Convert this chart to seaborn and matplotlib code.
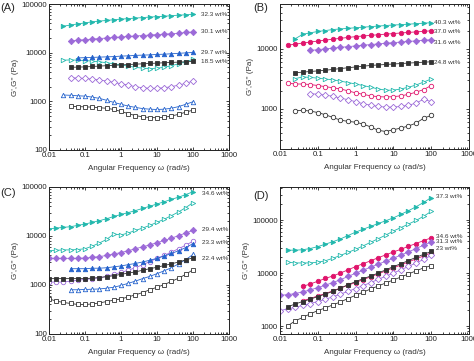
import matplotlib
matplotlib.use("Agg")
import matplotlib.pyplot as plt
import matplotlib.ticker as mticker
import seaborn as sns
import pandas as pd

sns.set_style("ticks")
plt.rcParams['font.family'] = ['Liberation Sans', 'DejaVu Sans']

# angular frequency grid (rad/s)
freq = [0.01, 0.0158, 0.0251, 0.0398, 0.0631, 0.1, 0.158, 0.251, 0.398, 0.631,
        1.0, 1.58, 2.51, 3.98, 6.31, 10.0, 15.8, 25.1, 39.8, 63.1, 100.0]

# ---------------- Panel A ----------------
A_323_Gp = [35000, 37000, 39000, 41000, 43000, 44500, 46000, 47500, 49000, 50000,
            51500, 52500, 54000, 55000, 56000, 57500, 59000, 60000, 61500]
A_323_Gpp = [7000, 7100, 7000, 6900, 6700, 6500, 6200, 5900, 5600, 5300,
             5000, 4800, 4700, 4800, 5000, 5400, 5900, 6500, 7300]
A_301_Gp = [17500, 18000, 18500, 19000, 19500, 20000, 20500, 21000, 21500, 22000,
            22500, 23000, 23500, 24000, 24500, 25000, 26000, 26500]
A_301_Gpp = [3050, 3000, 2950, 2850, 2750, 2600, 2450, 2300, 2150, 2000,
             1900, 1850, 1850, 1900, 2000, 2150, 2350, 2600]
A_297_Gp = [7800, 7900, 8000, 8100, 8200, 8300, 8500, 8600, 8800, 8900,
            9000, 9200, 9300, 9500, 9700, 9900, 10100]
A_297_Gpp = [1350, 1330, 1300, 1280, 1220, 1150, 1050, 950, 870, 800,
             750, 710, 690, 680, 690, 720, 780, 870, 980]
A_185_Gp = [5000, 5050, 5100, 5200, 5300, 5400, 5500, 5600, 5700, 5800,
            5900, 6000, 6100, 6200, 6300, 6400, 6500, 6600]
A_185_Gpp = [790, 780, 770, 760, 740, 720, 680, 620, 560, 510,
             480, 465, 460, 470, 500, 540, 600, 660]

# ---------------- Panel B ----------------
B_403_Gp = [14700, 17500, 18500, 19500, 20200, 21000, 21500, 22000, 22500, 23000,
            23500, 24000, 24500, 25000, 25300, 25800, 26300, 26800, 27300]
B_403_Gpp = [3200, 3400, 3350, 3250, 3150, 3050, 2900, 2750, 2600, 2450,
             2300, 2150, 2050, 2050, 2150, 2300, 2500, 2800, 3150]
B_370_Gp = [11500, 12000, 12500, 13000, 13500, 14000, 14500, 15000, 15500, 16000,
            16400, 16800, 17200, 17600, 18000, 18400, 18800, 19200, 19600, 20000]
B_370_Gpp = [2700, 2600, 2600, 2550, 2450, 2350, 2250, 2150, 2000, 1850,
             1750, 1650, 1600, 1580, 1600, 1650, 1750, 1900, 2100, 2450]
B_316_Gp = [9400, 9700, 10000, 10300, 10600, 10900, 11200, 11500, 11800, 12100,
            12400, 12700, 13000, 13300, 13600, 13900, 14200]
B_316_Gpp = [1800, 1750, 1700, 1620, 1520, 1420, 1320, 1220, 1150, 1100,
             1070, 1070, 1100, 1150, 1250, 1450, 1320]
B_248_Gp = [4000, 4100, 4200, 4300, 4400, 4550, 4700, 4850, 5000, 5150,
            5300, 5400, 5500, 5600, 5700, 5800, 5900, 6000, 6100]
B_248_Gpp = [930, 950, 920, 870, 800, 720, 650, 620, 600, 560,
             500, 440, 420, 450, 480, 520, 580, 700, 780]

# ---------------- Panel C ----------------
C_346_Gp = [14000, 14500, 15000, 15500, 16500, 17500, 19000, 20500, 22500, 25000, 27500,
            30000, 33000, 36500, 40500, 45000, 50000, 56000, 62000, 70000, 80000]
C_346_Gpp = [5000, 5100, 5200, 5200, 5300, 5500, 6200, 7200, 8500, 11000, 10500,
             11500, 13000, 14500, 16500, 19000, 22000, 26000, 31000, 38000, 48000]
C_294_Gp = [3500, 3500, 3500, 3500, 3500, 3550, 3650, 3800, 4000, 4300, 4600,
            5000, 5500, 6000, 6600, 7300, 8100, 9000, 10200, 11500, 13000]
C_294_Gpp = [1150, 1150, 1150, 1200, 1250, 1300, 1350, 1400, 1500, 1650, 1800,
             2000, 2250, 2600, 3000, 3500, 4000, 4700, 5500, 6500, 7800]
C_233_Gp = [2150, 2150, 2150, 2200, 2200, 2250, 2350, 2450, 2600, 2750,
            2950, 3200, 3500, 3900, 4400, 5000, 5800, 7000]
C_233_Gpp = [800, 800, 810, 820, 830, 860, 900, 980, 1080, 1200,
             1350, 1500, 1700, 1950, 2250, 2700, 3300, 4200]
C_224_Gp = [1350, 1350, 1350, 1350, 1350, 1350, 1380, 1420, 1480, 1550, 1650,
            1750, 1850, 2000, 2150, 2300, 2500, 2700, 2950, 3250, 3600]
C_224_Gpp = [520, 470, 440, 420, 400, 400, 410, 430, 460, 490, 520,
             570, 630, 700, 800, 900, 1020, 1180, 1380, 1650, 2050]

# ---------------- Panel D ----------------
D_373_Gp = [27000, 27000, 27500, 29000, 31500, 35000, 39000, 44000, 51000, 59000,
            67000, 76000, 86000, 97000, 110000, 128000, 150000, 178000, 215000, 265000]
D_373_Gpp = [16000, 15500, 15500, 15500, 16000, 17000, 19000, 21500, 24500, 28000,
             32500, 38000, 44500, 52000, 62000, 72000, 84000, 98000, 118000, 145000]
D_346_Gp = [5600, 6200, 7000, 7900, 8800, 10000, 11500, 13200, 15000, 17000,
            19500, 22000, 25000, 28000, 32000, 36000, 41000, 46000]
D_346_Gpp = [3000, 3300, 3700, 4100, 4600, 5200, 5900, 6600, 7500, 8500,
             9600, 11000, 12500, 14200, 16200, 18500, 21000, 24000]
D_313_Gp = [3800, 3900, 4100, 4400, 4800, 5300, 5900, 6600, 7500, 8600, 9900,
            11300, 12900, 14700, 16700, 19000, 21800, 25000, 29000, 33500, 38500]
D_313_Gpp = [1950, 2100, 2250, 2450, 2650, 2900, 3200, 3550, 4000, 4500, 5100,
             5800, 6600, 7600, 8700, 10000, 11500, 13300, 15500, 18000, 21500]
D_23_Gp = [2300, 2600, 2900, 3200, 3600, 4000, 4500, 5200, 6000, 6900,
           7800, 8800, 10000, 11500, 13200, 15000, 17200, 19800, 22500, 25500]
D_23_Gpp = [1000, 1250, 1450, 1700, 1950, 2200, 2500, 2850, 3300, 3800,
            4350, 5000, 5700, 6500, 7400, 8400, 9600, 11000, 12500, 13800]

panel_letters = ["(A)", "(B)", "(C)", "(D)"]
labels_A = ["32.3 wt%", "30.1 wt%", "29.7 wt%", "18.5 wt%"]
labels_B = ["40.3 wt%", "37.0 wt%", "31.6 wt%", "24.8 wt%"]
labels_C = ["34.6 wt%", "29.4 wt%", "23.3 wt%", "22.4 wt%"]
labels_D = ["37.3 wt%", "34.6 wt%", "31.3 wt%", "23 wt%"]
label_y_A = [62000, 26600, 10300, 6500]
label_y_B = [27100, 19200, 12600, 5840]
label_y_C = [74500, 13800, 7500, 3550]
label_y_D = [272000, 49900, 38500, 28400]

CYAN = "#22b8ad"
PURPLE = "#9c6ad8"
BLUE = "#2462cc"
BLACK = "#333333"
MAG = "#e0146c"

fig = plt.figure(figsize=(4.74, 3.61), dpi=100)

axA = fig.add_axes([0.1034, 0.5845, 0.3797, 0.4044])
axB = fig.add_axes([0.5907, 0.5873, 0.3987, 0.4017])
axC = fig.add_axes([0.1034, 0.0748, 0.3797, 0.4072])
axD = fig.add_axes([0.5907, 0.0748, 0.3987, 0.4072])


def series(ax, vals, color, marker, filled):
    x = freq[len(freq) - len(vals):]
    df = pd.DataFrame({"w": x, "G": vals})
    sns.lineplot(data=df, x="w", y="G", ax=ax, color=color, marker=marker,
                 markersize=3.2, markeredgewidth=0.6, markeredgecolor=color,
                 markerfacecolor=color if filled else "white",
                 linewidth=0.6, sort=False, estimator=None)


# Panel A
series(axA, A_323_Gp, CYAN, ">", True)
series(axA, A_323_Gpp, CYAN, ">", False)
series(axA, A_301_Gp, PURPLE, "D", True)
series(axA, A_301_Gpp, PURPLE, "D", False)
series(axA, A_297_Gp, BLUE, "^", True)
series(axA, A_297_Gpp, BLUE, "^", False)
series(axA, A_185_Gp, BLACK, "s", True)
series(axA, A_185_Gpp, BLACK, "s", False)

# Panel B
series(axB, B_403_Gp, CYAN, ">", True)
series(axB, B_403_Gpp, CYAN, ">", False)
series(axB, B_370_Gp, MAG, "o", True)
series(axB, B_370_Gpp, MAG, "o", False)
series(axB, B_316_Gp, PURPLE, "D", True)
series(axB, B_316_Gpp, PURPLE, "D", False)
series(axB, B_248_Gp, BLACK, "s", True)
series(axB, B_248_Gpp, BLACK, "o", False)

# Panel C
series(axC, C_346_Gp, CYAN, ">", True)
series(axC, C_346_Gpp, CYAN, ">", False)
series(axC, C_294_Gp, PURPLE, "D", True)
series(axC, C_294_Gpp, PURPLE, "o", False)
series(axC, C_233_Gp, BLUE, "^", True)
series(axC, C_233_Gpp, BLUE, "^", False)
series(axC, C_224_Gp, BLACK, "s", True)
series(axC, C_224_Gpp, BLACK, "s", False)

# Panel D
series(axD, D_373_Gp, CYAN, ">", True)
series(axD, D_373_Gpp, CYAN, ">", False)
series(axD, D_346_Gp, MAG, "o", True)
series(axD, D_346_Gpp, MAG, "o", False)
series(axD, D_313_Gp, PURPLE, "D", True)
series(axD, D_313_Gpp, PURPLE, "D", False)
series(axD, D_23_Gp, BLACK, "s", True)
series(axD, D_23_Gpp, BLACK, "s", False)

ylims = [(100, 1e5), (215, 56000), (100, 1e5), (707, 420000)]
label_x = [0.843, 0.813, 0.852, 0.825]
all_labels = [labels_A, labels_B, labels_C, labels_D]
all_label_y = [label_y_A, label_y_B, label_y_C, label_y_D]

fmt = mticker.FuncFormatter(lambda v, p: ("%g" % v) if v < 1 else "%d" % round(v))

for ax, yl, lx, labs, ly in zip([axA, axB, axC, axD], ylims, label_x, all_labels, all_label_y):
    ax.set_xscale("log")
    ax.set_yscale("log")
    ax.set_xlim(0.01, 1000)
    ax.set_ylim(*yl)
    ax.xaxis.set_major_locator(mticker.LogLocator(base=10, numticks=10))
    ax.yaxis.set_major_locator(mticker.LogLocator(base=10, numticks=10))
    ax.xaxis.set_minor_locator(mticker.LogLocator(base=10, subs=range(2, 10), numticks=20))
    ax.yaxis.set_minor_locator(mticker.LogLocator(base=10, subs=range(2, 10), numticks=20))
    ax.xaxis.set_major_formatter(fmt)
    ax.yaxis.set_major_formatter(fmt)
    ax.xaxis.set_minor_formatter(mticker.NullFormatter())
    ax.yaxis.set_minor_formatter(mticker.NullFormatter())
    ax.tick_params(which="both", direction="in", top=True, right=True,
                   labelsize=5.6, width=0.6, pad=1.5, colors="#222222")
    ax.tick_params(which="major", length=2.5)
    ax.tick_params(which="minor", length=1.3)
    for sp in ax.spines.values():
        sp.set_linewidth(0.7)
        sp.set_color("#222222")
    ax.set_xlabel("Angular Frequency \u03c9 (rad/s)", fontsize=5.8, labelpad=4, color="#333333")
    ax.set_ylabel("G',G'' (Pa)", fontsize=5.8, labelpad=2, color="#333333")
    for t, yv in zip(labs, ly):
        ax.text(lx, yv, t, transform=ax.get_yaxis_transform(), fontsize=4.6,
                color="#333333", va="center", ha="left")

fig.text(0.0, 0.978, "(A)", fontsize=8, va="center", ha="left")
fig.text(0.535, 0.978, "(B)", fontsize=8, va="center", ha="left")
fig.text(0.0, 0.465, "(C)", fontsize=8, va="center", ha="left")
fig.text(0.535, 0.458, "(D)", fontsize=8, va="center", ha="left")

fig.savefig("out.png", dpi=100)
